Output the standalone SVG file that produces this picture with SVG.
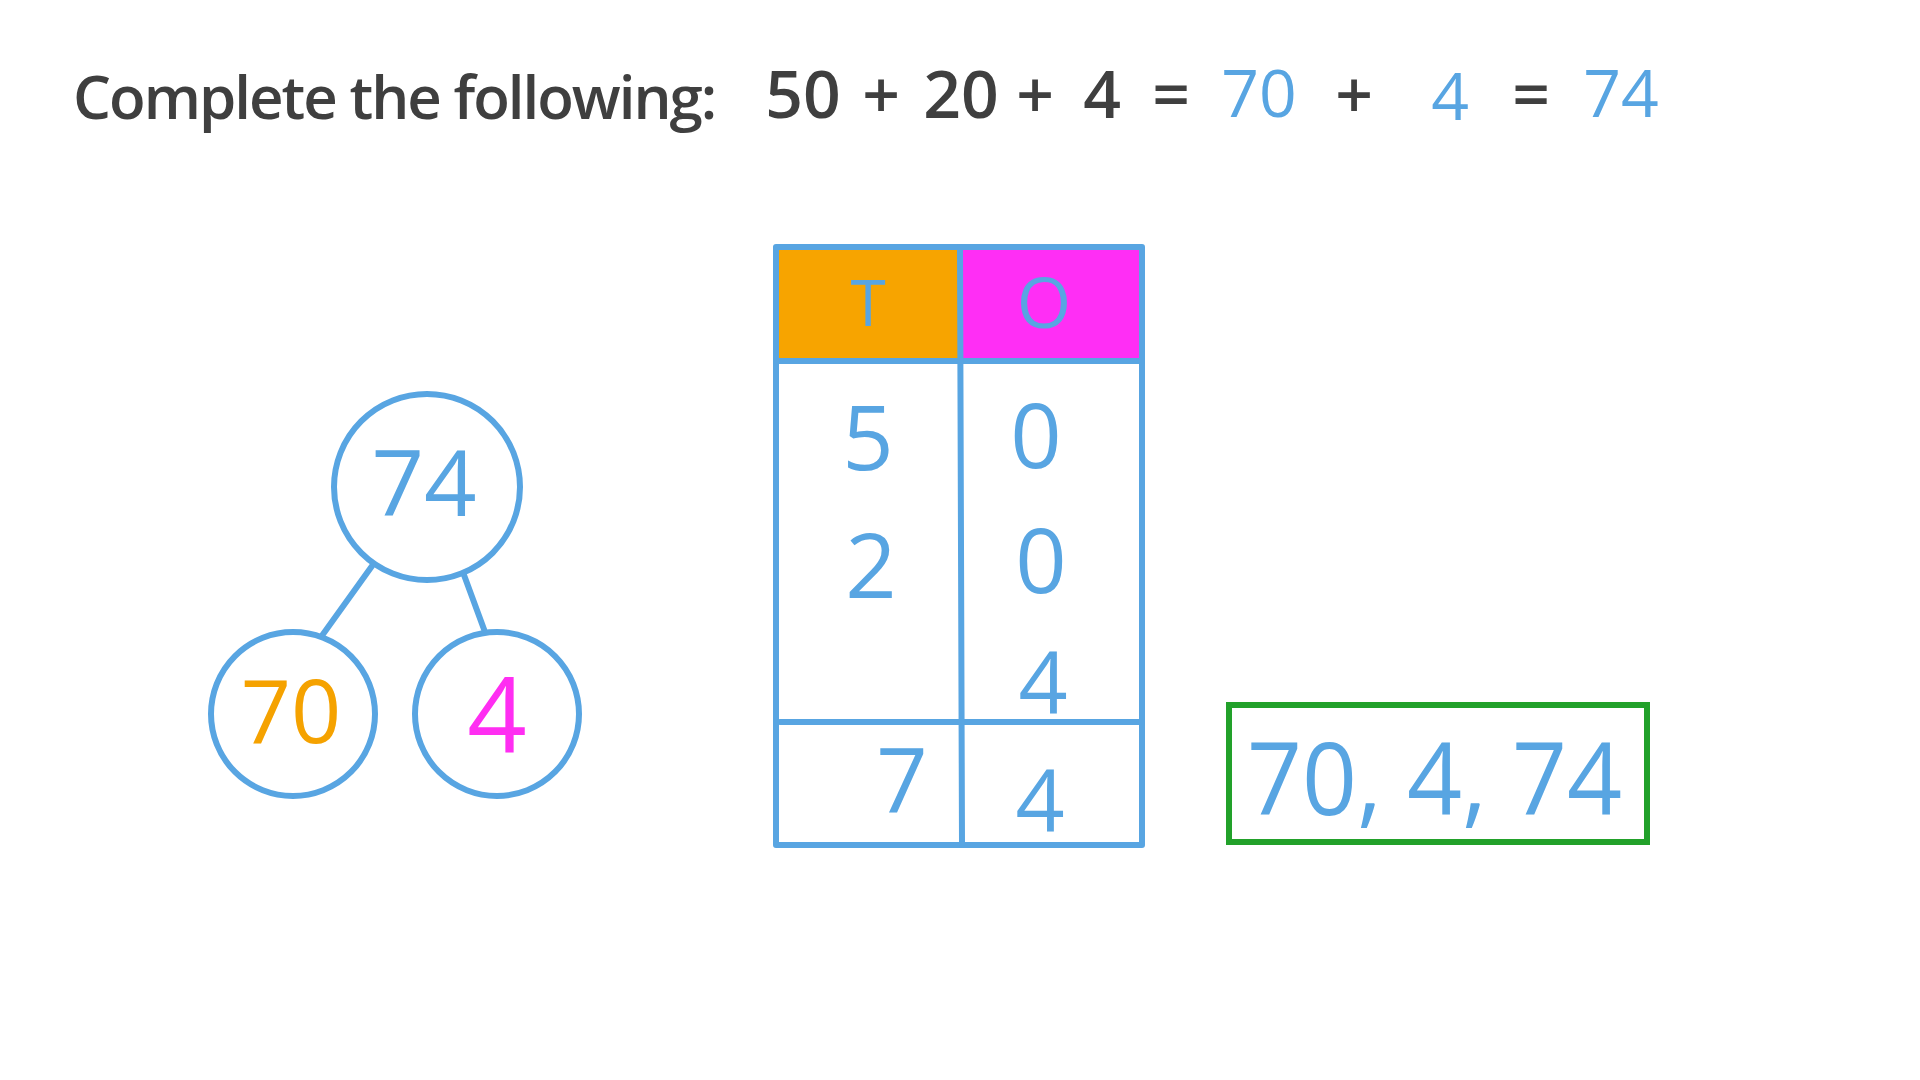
<svg xmlns="http://www.w3.org/2000/svg" width="1920" height="1080" viewBox="0 0 1920 1080">
<style>
.t{font-family:"Open Sans","Liberation Sans",sans-serif;}
.title{fill:#3f3f3f;font-size:60px;font-weight:600;letter-spacing:-2px;}
.eq{font-size:66px;text-anchor:middle;}
.dk{fill:#3f3f3f;font-weight:600;}
.bl{fill:#58a5e2;}
.num{font-size:90px;text-anchor:middle;fill:#58a5e2;}
.ln{fill:none;stroke:#58a5e2;stroke-width:6;stroke-linecap:round;stroke-linejoin:round;}
.circ{fill:#ffffff;stroke:#58a5e2;stroke-width:6;}
</style>
<rect width="1920" height="1080" fill="#ffffff"/>

<g id="title" class="t">
  <text class="title" x="73" y="119">Complete the following:</text>
  <text class="eq dk" x="803" y="118">50</text>
  <text class="eq dk" x="881" y="118">+</text>
  <text class="eq dk" x="961" y="118">20</text>
  <text class="eq dk" x="1035" y="118">+</text>
  <text class="eq dk" x="1102" y="118">4</text>
  <text class="eq dk" x="1171" y="118">=</text>
  <text class="eq bl" x="1259" y="117">70</text>
  <text class="eq dk" x="1354" y="118">+</text>
  <text class="eq bl" x="1450" y="120">4</text>
  <text class="eq dk" x="1531" y="118">=</text>
  <text class="eq bl" x="1621" y="117">74</text>
</g>

<g id="connectors">
  <line class="ln" x1="372" y1="566" x2="321" y2="637"/>
  <line class="ln" x1="464" y1="575" x2="485" y2="632"/>
</g>

<g id="node-74">
  <circle class="circ" cx="427" cy="487" r="93"/>
  <text class="t num" x="424" y="516" style="font-size:92px">74</text>
</g>
<g id="node-70">
  <circle class="circ" cx="293" cy="714" r="82"/>
  <text class="t" x="291" y="743" style="font-size:88px;text-anchor:middle;fill:#f5a200">70</text>
</g>
<g id="node-4">
  <circle class="circ" cx="497" cy="714" r="82"/>
  <text class="t" x="497" y="752" style="font-size:104px;text-anchor:middle;fill:#ff2ef2">4</text>
</g>

<g id="place-value-table">
  <rect x="779" y="250" width="181" height="111" fill="#f7a400"/>
  <rect x="960" y="250" width="179" height="111" fill="#ff2ef5"/>
  <rect class="ln" x="776" y="247" width="366" height="598"/>
  <line class="ln" x1="776" y1="361" x2="1142" y2="361"/>
  <line class="ln" x1="960" y1="247" x2="962" y2="845"/>
  <line class="ln" x1="780" y1="722" x2="1142" y2="722"/>
  <text class="t num" x="868" y="326" style="font-size:64px">T</text>
  <text class="t num" x="1044" y="328" style="font-size:70px">O</text>
  <text class="t num" x="868" y="470">5</text>
  <text class="t num" x="1036" y="468">0</text>
  <text class="t num" x="871" y="598">2</text>
  <text class="t num" x="1041" y="593">0</text>
  <text class="t num" x="1043" y="713" style="font-size:86px">4</text>
  <text class="t num" x="902" y="813">7</text>
  <text class="t num" x="1040" y="831" style="font-size:86px">4</text>
</g>

<g id="answer-box">
  <rect x="1229" y="705" width="418" height="137" fill="none" stroke="#22a12a" stroke-width="6"/>
  <text class="t" x="1247" y="815" textLength="375" lengthAdjust="spacingAndGlyphs" style="font-size:100px;fill:#58a5e2">70, 4, 74</text>
</g>
</svg>
